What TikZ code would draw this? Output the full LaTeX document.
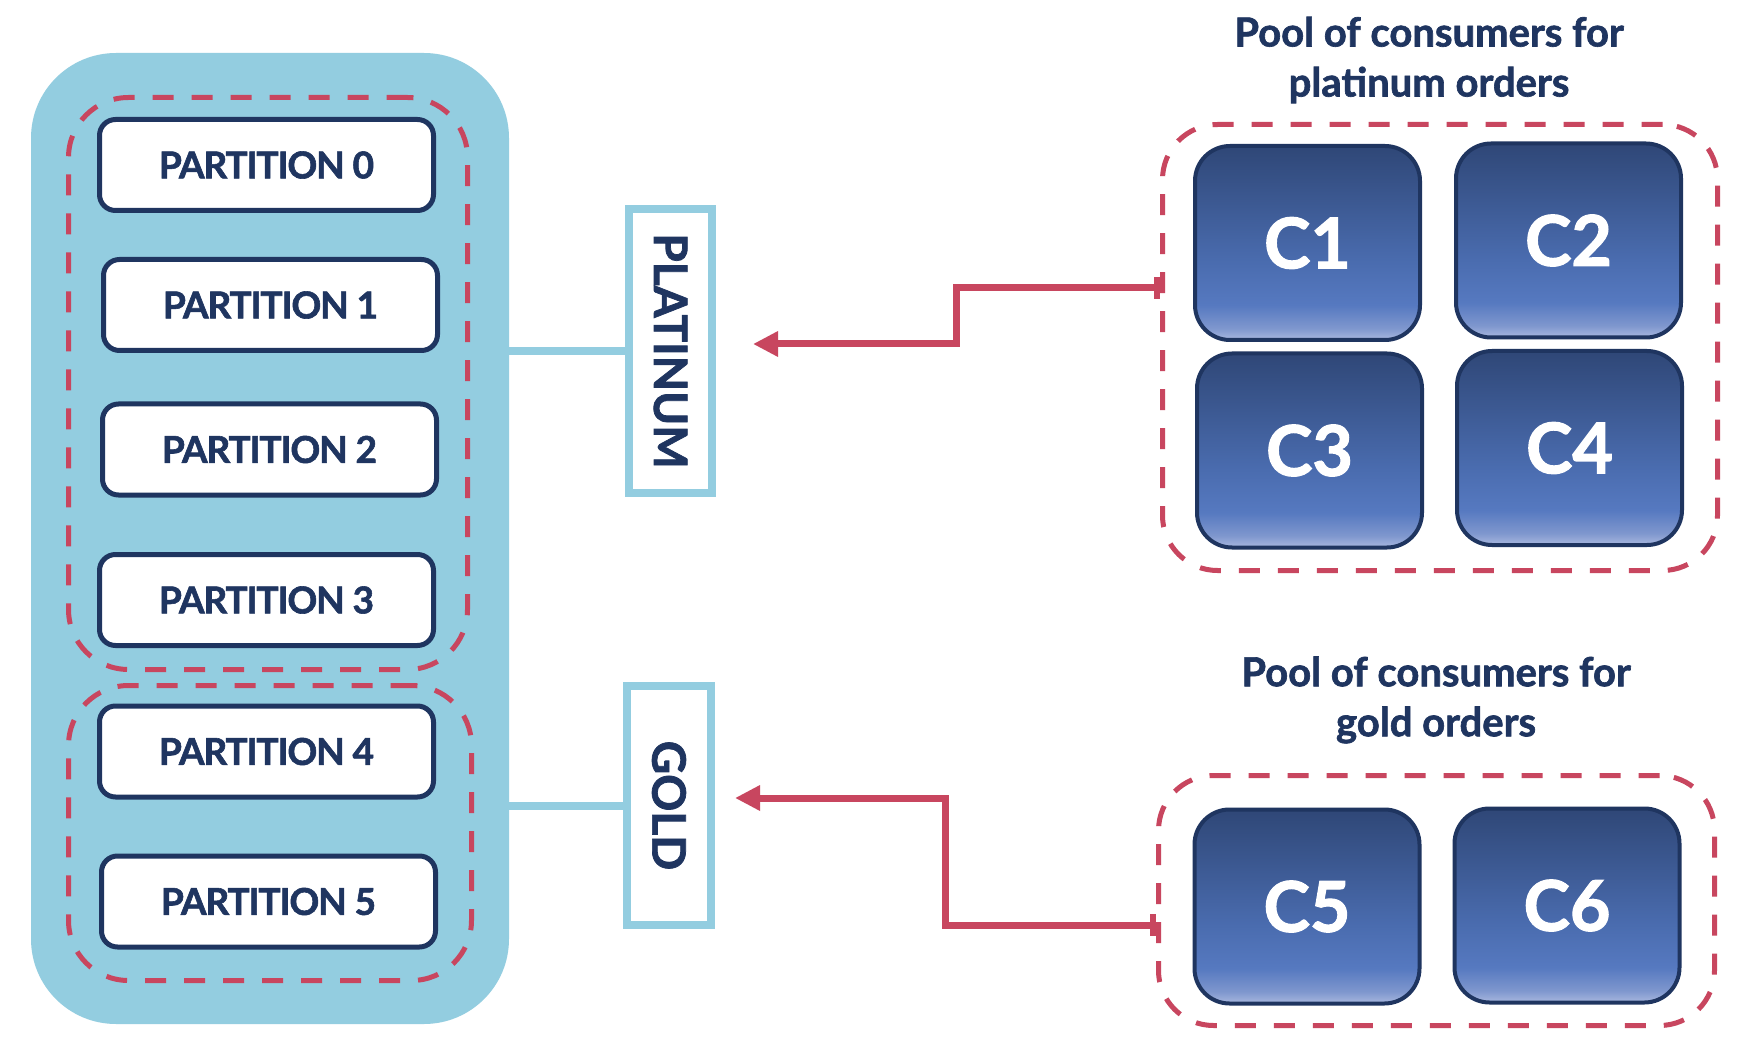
\documentclass[tikz,border=0pt]{standalone}
\usepackage{fontspec}
\setmainfont{Lato}[BoldFeatures={FakeBold=1.6}]
\usetikzlibrary{arrows.meta,calc}
\definecolor{sky}{HTML}{93CDE0}
\definecolor{navy}{HTML}{1F3560}
\definecolor{rose}{HTML}{C8465F}
\definecolor{ctop}{HTML}{2F4777}
\definecolor{cmid}{HTML}{4A6CAF}
\definecolor{clow}{HTML}{5679C0}
\definecolor{cpale}{HTML}{7F97CE}
\definecolor{cbot}{HTML}{A9B8DF}
\pgfdeclareverticalshading{cshade}{100bp}{color(0bp)=(cbot); color(25bp)=(cbot); color(28bp)=(cpale); color(34bp)=(clow); color(45bp)=(cmid); color(75bp)=(ctop); color(100bp)=(ctop)}
\tikzset{
  storebox/.style={fill=sky, rounded corners=85pt, minimum width=478pt, minimum height=971pt, inner sep=0pt},
  partbox/.style={draw=navy, line width=5pt, fill=white, rounded corners=16pt, minimum width=334pt, minimum height=91pt, inner sep=0pt, text=navy, font=\fontsize{37}{40}\selectfont\bfseries\addfontfeature{LetterSpace=-3}},
  grpbox/.style={draw=rose, line width=5pt, dash pattern=on 21pt off 18pt, rounded corners=60pt, inner sep=0pt},
  poolbox/.style={draw=rose, line width=5pt, dash pattern=on 21pt off 18pt, rounded corners=55pt, inner sep=0pt},
  cbox/.style={draw=navy, line width=4pt, shade, shading=cshade, rounded corners=35pt, minimum width=225pt, minimum height=194pt, inner sep=0pt, text=white, font=\fontsize{70}{72}\selectfont\bfseries},
  tagbox/.style={draw=sky, line width=8pt, fill=white, rotate=-90, inner sep=0pt, text=navy, font=\fontsize{46}{48}\selectfont\bfseries},
  skyline/.style={draw=sky, line width=8pt},
  flow/.style={draw=rose, line width=7pt, {Bar[width=22pt,line width=6pt]}-{Triangle[length=25pt,width=24pt]}},
  title/.style={align=center, inner sep=0pt, text=navy, font=\fontsize{40}{50}\selectfont\bfseries}
}
\begin{document}
\begin{tikzpicture}[x={(1pt,0pt)}, y={(0pt,-1pt)}]
\useasboundingbox (0,0) rectangle (1738,1040);
\fill[white] (0,0) rectangle (1738,1040);
% left store
\node[storebox] (store) at (270,538.5) {};
\node[grpbox, minimum width=399pt, minimum height=572pt] (platgrp) at (268,383.5) {};
\node[grpbox, minimum width=403pt, minimum height=295pt] (goldgrp) at (270,833) {};
\node[partbox] (p0) at (266.5,165) {PARTITION 0};
\node[partbox] (p1) at (270.5,305) {PARTITION 1};
\node[partbox] (p2) at (269.5,449.5) {PARTITION 2};
\node[partbox] (p3) at (266.5,600) {PARTITION 3};
\node[partbox] (p4) at (266.5,751.5) {PARTITION 4};
\node[partbox] (p5) at (268.5,901.5) {PARTITION 5};
% tags
\node[tagbox, minimum width=284pt, minimum height=83pt] (plattag) at (670.5,351) {PLATINUM};
\node[tagbox, minimum width=239pt, minimum height=84pt] (goldtag) at (669,805.5) {GOLD};
\draw[skyline] (store.east |- plattag.south) -- (plattag.south);
\draw[skyline] (store.east |- goldtag.south) -- (goldtag.south);
% pools
\node[title] (plattitle) at (1429,60) {Pool of consumers for\\platinum orders};
\node[title] (goldtitle) at (1436,700) {Pool of consumers for\\gold orders};
\node[poolbox, minimum width=555pt, minimum height=446pt] (platpool) at (1440,347.5) {};
\node[poolbox, minimum width=556pt, minimum height=250pt] (goldpool) at (1436.5,900.5) {};
\node[cbox] (c1) at (1307.5,243) {C1};
\node[cbox] (c2) at (1568.5,240.5) {C2};
\node[cbox] (c3) at (1309.5,450.5) {C3};
\node[cbox] (c4) at (1569.5,448) {C4};
\node[cbox] (c5) at (1307,906.5) {C5};
\node[cbox] (c6) at (1567,905.5) {C6};
% connectors
\coordinate (platend) at (753,344);
\coordinate (goldend) at (735,798);
\draw[flow] ([yshift=59.5pt]platpool.west) -| (956,344) -- (platend);
\draw[flow] ([yshift=-24.5pt]goldpool.west) -| (945,798) -- (goldend);
\end{tikzpicture}
\end{document}
